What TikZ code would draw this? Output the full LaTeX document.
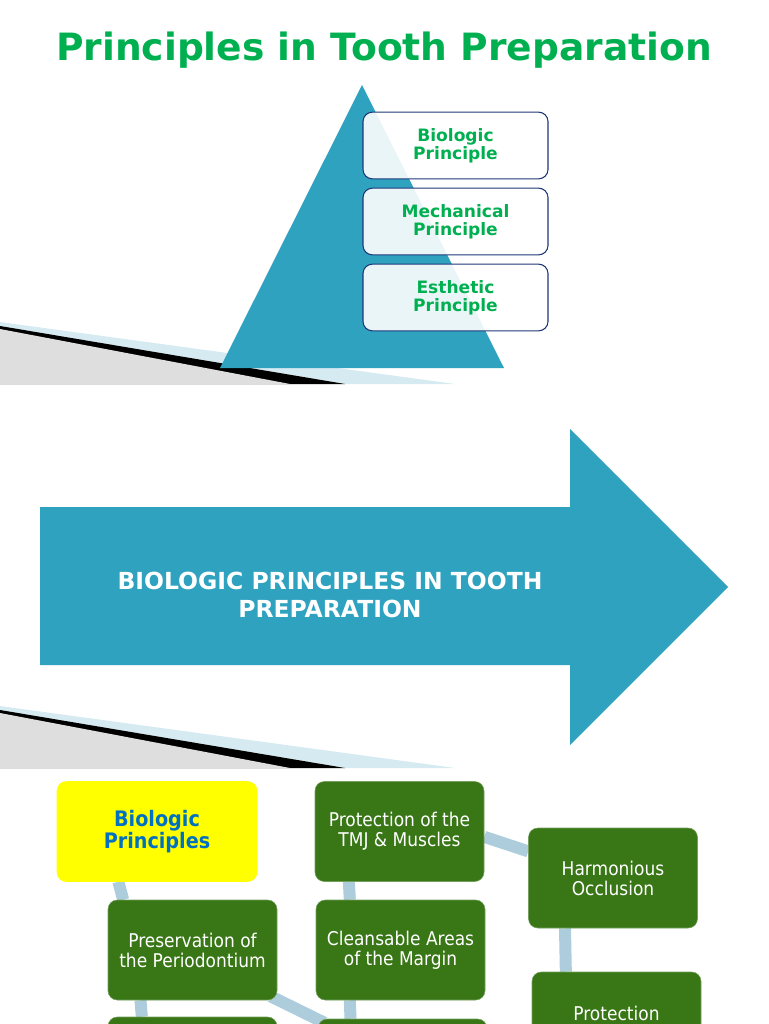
\documentclass[tikz,border=0pt]{standalone}
\usepackage{fontspec}
\setmainfont{DejaVu Sans}
\newfontfamily\condfont{DejaVu Sans Condensed}
\usetikzlibrary{backgrounds}
\definecolor{tgreen}{RGB}{0,176,80}
\definecolor{teal}{RGB}{46,162,191}
\definecolor{navy}{RGB}{31,56,120}
\definecolor{lgray}{RGB}{222,222,222}
\definecolor{lblue}{RGB}{214,234,242}
\definecolor{dgreen}{RGB}{56,118,22}
\definecolor{conn}{RGB}{174,205,220}
\definecolor{tblue}{RGB}{0,112,192}
\definecolor{yel}{RGB}{255,255,0}
\tikzset{
  pbox/.style={draw=navy,line width=0.8pt,fill=white,fill opacity=0.9,text opacity=1,rounded corners=7pt,minimum width=138.75pt,minimum height=50pt,inner sep=0pt,text=tgreen,font=\bfseries\fontsize{12.8}{13.5}\selectfont,align=center},
  gbox/.style={fill=dgreen,draw=dgreen!70!white,rounded corners=7pt,minimum width=126.75pt,minimum height=75pt,inner sep=0pt,text=white,font=\condfont\fontsize{14.2}{15}\selectfont,align=center},
  cn/.style={draw=conn,line width=9pt}
}
\begin{document}
\begin{tikzpicture}[x=0.75pt,y=-0.75pt]
\useasboundingbox (0,0) rectangle (768,1024);
\clip (0,0) rectangle (768,1024);
% slide 1
\node[text=tgreen,font=\bfseries\fontsize{28.2}{30}\selectfont] (title) at (384,50) {Principles in Tooth Preparation};
\fill[lblue] (0,322) -- (455,384) -- (0,384) -- cycle;
\fill[black] (0,326) -- (345,384) -- (0,384) -- cycle;
\fill[lgray] (0,329) -- (290,384) -- (0,384) -- cycle;
\fill[teal] (362,85) -- (504,368) -- (220,368) -- cycle;
\node[pbox] (b1) at (455.5,145.5) {Biologic\\Principle};
\node[pbox] (b2) at (455.5,221.5) {Mechanical\\Principle};
\node[pbox] (b3) at (455.5,297.5) {Esthetic\\Principle};
% slide 2
\fill[teal] (40,507) -- (570,507) -- (570,429) -- (728,587) -- (570,745) -- (570,665) -- (40,665) -- cycle;
\node[text=white,font=\bfseries\fontsize{17.6}{20.5}\selectfont,align=center] (arr) at (330,595) {BIOLOGIC PRINCIPLES IN TOOTH\\PREPARATION};
\fill[lblue] (0,706) -- (455,768) -- (0,768) -- cycle;
\fill[black] (0,710) -- (345,768) -- (0,768) -- cycle;
\fill[lgray] (0,713) -- (290,768) -- (0,768) -- cycle;
% slide 3
\node[gbox,fill=yel,draw=yel,minimum width=150pt,text=tblue,font=\condfont\bfseries\fontsize{16}{15.5}\selectfont] (bp) at (157,831.5) {Biologic\\Principles};
\node[gbox] (tmj) at (399.5,831.5) {Protection of the\\TMJ \& Muscles};
\node[gbox] (har) at (613,878) {Harmonious\\Occlusion};
\node[gbox] (per) at (192.5,950) {Preservation of\\the Periodontium};
\node[gbox] (cle) at (400.5,950) {Cleansable Areas\\of the Margin};
\node[gbox] (pro) at (616.5,1022) {};
\node[text=white,font=\condfont\fontsize{14.2}{15}\selectfont] (protxt) at (616.5,1013) {Protection};
\node[gbox] (bl) at (192.5,1067) {};
\node[gbox] (bm) at (402.5,1069) {};
\begin{scope}[on background layer]
\draw[cn] ([xshift=-29pt]bp.south) -- ([xshift=-52pt]per.north);
\draw[cn] ([xshift=-39pt]per.south) -- ([xshift=-38pt]bl.north);
\draw[cn] ([xshift=-5pt,yshift=3pt]per.south east) -- ([xshift=5pt,yshift=-3pt]bm.north west);
\draw[cn] ([xshift=-38pt]tmj.south) -- ([xshift=-38pt]cle.north);
\draw[cn] ([xshift=-38pt]cle.south) -- ([xshift=-39pt]bm.north);
\draw[cn] ([yshift=-4pt]tmj.east) -- ([yshift=20pt]har.west);
\draw[cn] ([xshift=-36pt]har.south) -- ([xshift=-38pt]pro.north);
\end{scope}
\end{tikzpicture}
\end{document}
